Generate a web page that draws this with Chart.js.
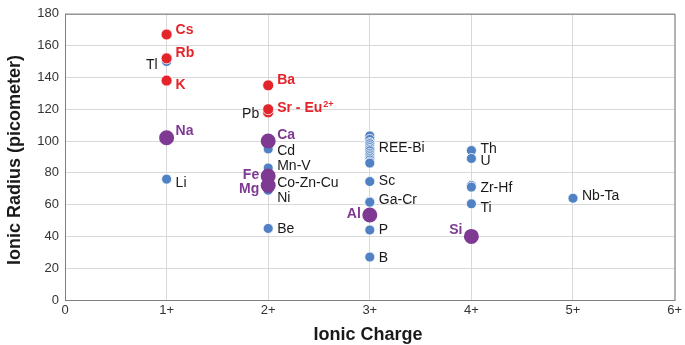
<!DOCTYPE html>
<html>
<head>
<meta charset="utf-8">
<script src="https://cdn.jsdelivr.net/npm/chart.js@4.4.1/dist/chart.umd.min.js"></script>
<style>
  html, body { margin: 0; padding: 0; background: #fff; }
  #wrap { width: 685px; height: 345px; }
</style>
</head>
<body>
<div id="wrap"><canvas id="chart"></canvas></div>
<script>
// x axis tick labels
const chargeTicks = ["0", "1+", "2+", "3+", "4+", "5+", "6+"];

// blue: other ions
const blueCharge = [1, 1, 2, 2, 2, 2, 2, 2, 2, 2, 2,
  3, 3, 3, 3, 3, 3, 3, 3, 3, 3, 3, 3, 3, 3, 3, 3, 3, 3, 3, 3, 3,
  4, 4, 4, 4, 4, 5];
const blueRadius = [150, 76, 119, 95, 83, 79, 74.5, 74, 73, 69, 45,
  103, 103.2, 101, 99, 98.3, 97, 95.8, 94.7, 93.8, 92.3, 91.2, 90.1, 89, 88, 86.8, 86.1,
  74.5, 62, 61.5, 44, 27,
  94, 89, 72, 71, 60.5, 64];

// red: alkali / alkaline earth large ions
const redCharge = [1, 1, 1, 2, 2, 2];
const redRadius = [167, 152, 138, 135, 118, 120];

// purple: major rock-forming elements
const purpleCharge = [1, 2, 2, 2, 3, 4];
const purpleRadius = [102, 100, 78, 72, 53.5, 40];

// point labels: text, anchor charge, anchor radius, side, kind
const labelText = ["Cs", "Rb", "Tl", "K", "Na", "Li",
  "Ba", "Sr - Eu", "Pb", "Ca", "Cd", "Mn-V", "Fe", "Co-Zn-Cu", "Mg", "Ni", "Be",
  "REE-Bi", "Sc", "Ga-Cr", "Al", "P", "B",
  "Th", "U", "Zr-Hf", "Ti", "Si", "Nb-Ta"];
const labelCharge = [1, 1, 1, 1, 1, 1,
  2, 2, 2, 2, 2, 2, 2, 2, 2, 2, 2,
  3, 3, 3, 3, 3, 3,
  4, 4, 4, 4, 4, 5];
const labelRadius = [170, 155.5, 148, 135, 106.5, 73.5,
  138, 120.5, 117, 103.5, 93.7, 84, 78.5, 73.5, 70, 64, 44.7,
  95.5, 74.7, 62.5, 54, 44, 26.3,
  95, 87.5, 70.4, 57.5, 44, 65.5];
const labelSide = ["r", "r", "l", "r", "r", "r",
  "r", "r", "l", "r", "r", "r", "l", "r", "l", "r", "r",
  "r", "r", "r", "l", "r", "r",
  "r", "r", "r", "r", "l", "r"];
const labelKind = ["red", "red", "blk", "red", "pur", "blk",
  "red", "red", "blk", "pur", "blk", "blk", "pur", "blk", "pur", "blk", "blk",
  "blk", "blk", "blk", "pur", "blk", "blk",
  "blk", "blk", "blk", "blk", "pur", "blk"];

const BLUE = "#4f81c4";
const RED = "#e3242b";
const PURPLE = "#7e3a93";
const FONT = "'Liberation Sans', Arial, sans-serif";

const toPts = (xs, ys) => xs.map((x, i) => ({ x: x, y: ys[i] }));

const decor = {
  id: "decor",
  afterDatasetsDraw(chart) {
    const { ctx, chartArea: a, scales } = chart;
    ctx.save();
    // plot frame
    ctx.strokeStyle = "#7f7f7f";
    ctx.lineWidth = 1;
    ctx.strokeRect(a.left + 0.5, a.top + 0.5, a.right - a.left, a.bottom - a.top);

    // point labels
    ctx.textBaseline = "middle";
    labelText.forEach((t, i) => {
      const kind = labelKind[i];
      ctx.fillStyle = kind === "red" ? RED : kind === "pur" ? PURPLE : "#1a1a1a";
      ctx.font = (kind === "blk" ? "normal " : "bold ") + "14px " + FONT;
      const px = scales.x.getPixelForValue(labelCharge[i]);
      const py = scales.y.getPixelForValue(labelRadius[i]);
      if (labelSide[i] === "r") {
        ctx.textAlign = "left";
        ctx.fillText(t, px + 9, py);
        if (t === "Sr - Eu") {
          const w = ctx.measureText(t).width;
          ctx.font = "bold 9px " + FONT;
          ctx.fillText("2+", px + 9 + w + 1, py - 4);
        }
      } else {
        ctx.textAlign = "right";
        ctx.fillText(t, px - 9, py);
      }
    });

    // axis titles
    ctx.fillStyle = "#1a1a1a";
    ctx.font = "bold 18px " + FONT;
    ctx.textAlign = "center";
    ctx.fillText("Ionic Charge", 368, 335);
    ctx.translate(15, 160);
    ctx.rotate(-Math.PI / 2);
    ctx.fillText("Ionic Radius (picometer)", 0, 0);
    ctx.restore();
  }
};

new Chart(document.getElementById("chart"), {
  type: "scatter",
  data: {
    datasets: [
      {
        label: "Major",
        data: toPts(purpleCharge, purpleRadius),
        backgroundColor: PURPLE,
        borderColor: PURPLE,
        pointRadius: 7.5,
        borderWidth: 0,
      },
      {
        label: "Large ions",
        data: toPts(redCharge, redRadius),
        backgroundColor: RED,
        borderColor: "#ffffff",
        pointRadius: 5.5,
        borderWidth: 0.8,
      },
      {
        label: "Others",
        data: toPts(blueCharge, blueRadius),
        backgroundColor: BLUE,
        borderColor: "#ffffff",
        pointRadius: 5,
        borderWidth: 0.8,
      },
    ],
  },
  options: {
    responsive: true,
    maintainAspectRatio: false,
    animation: false,
    layout: { padding: { top: 6, right: 7, left: 0, bottom: 0 } },
    plugins: {
      legend: { display: false },
      tooltip: { enabled: false },
    },
    scales: {
      x: {
        type: "linear",
        min: 0,
        max: 6,
        afterFit(s) { s.height = 45; },
        ticks: {
          stepSize: 1,
          padding: 3,
          color: "#333",
          font: { family: FONT, size: 13 },
          callback: (v) => chargeTicks[v],
        },
        grid: { color: "#d9d9d9", drawTicks: false },
        border: { display: false },
      },
      y: {
        min: 0,
        max: 180,
        afterFit(s) { s.width = 65; },
        ticks: {
          stepSize: 20,
          padding: 6,
          color: "#333",
          font: { family: FONT, size: 13 },
        },
        grid: { color: "#d9d9d9", drawTicks: false },
        border: { display: false },
      },
    },
  },
  plugins: [decor],
});
</script>
</body>
</html>
